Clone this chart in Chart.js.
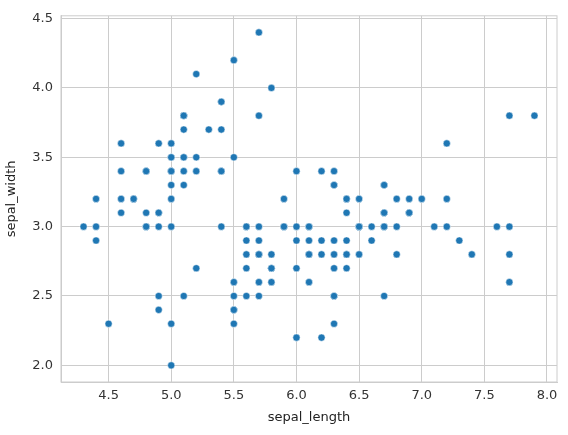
<!DOCTYPE html>
<html><head>
<script src="https://cdn.jsdelivr.net/npm/chart.js@4"></script>
<style>body{margin:0;background:#fff}#wrap{width:568px;height:435px}</style>
</head><body>
<div id="wrap"><canvas id="c"></canvas></div>
<script>
const sepalLength = [5.1,4.9,4.7,4.6,5.0,5.4,4.6,5.0,4.4,4.9,5.4,4.8,4.8,4.3,5.8,5.7,5.4,5.1,5.7,5.1,
5.4,5.1,4.6,5.1,4.8,5.0,5.0,5.2,5.2,4.7,4.8,5.4,5.2,5.5,4.9,5.0,5.5,4.9,4.4,5.1,
5.0,4.5,4.4,5.0,5.1,4.8,5.1,4.6,5.3,5.0,
7.0,6.4,6.9,5.5,6.5,5.7,6.3,4.9,6.6,5.2,5.0,5.9,6.0,6.1,5.6,6.7,5.6,5.8,6.2,5.6,
5.9,6.1,6.3,6.1,6.4,6.6,6.8,6.7,6.0,5.7,5.5,5.5,5.8,6.0,5.4,6.0,6.7,6.3,5.6,5.5,
5.5,6.1,5.8,5.0,5.6,5.7,5.7,6.2,5.1,5.7,
6.3,5.8,7.1,6.3,6.5,7.6,4.9,7.3,6.7,7.2,6.5,6.4,6.8,5.7,5.8,6.4,6.5,7.7,7.7,6.0,
6.9,5.6,7.7,6.3,6.7,7.2,6.2,6.1,6.4,7.2,7.4,7.9,6.4,6.3,6.1,7.7,6.3,6.4,6.0,6.9,
6.7,6.9,5.8,6.8,6.7,6.7,6.3,6.5,6.2,5.9];
const sepalWidth = [3.5,3.0,3.2,3.1,3.6,3.9,3.4,3.4,2.9,3.1,3.7,3.4,3.0,3.0,4.0,4.4,3.9,3.5,3.8,3.8,
3.4,3.7,3.6,3.3,3.4,3.0,3.4,3.5,3.4,3.2,3.1,3.4,4.1,4.2,3.1,3.2,3.5,3.6,3.0,3.4,
3.5,2.3,3.2,3.5,3.8,3.0,3.8,3.2,3.7,3.3,
3.2,3.2,3.1,2.3,2.8,2.8,3.3,2.4,2.9,2.7,2.0,3.0,2.2,2.9,2.9,3.1,3.0,2.7,2.2,2.5,
3.2,2.8,2.5,2.8,2.9,3.0,2.8,3.0,2.9,2.6,2.4,2.4,2.7,2.7,3.0,3.4,3.1,2.3,3.0,2.5,
2.6,3.0,2.6,2.3,2.7,3.0,2.9,2.9,2.5,2.8,
3.3,2.7,3.0,2.9,3.0,3.0,2.5,2.9,2.5,3.6,3.2,2.7,3.0,2.5,2.8,3.2,3.0,3.8,2.6,2.2,
3.2,2.8,2.8,2.7,3.3,3.2,2.8,3.0,2.8,3.0,2.8,3.8,2.8,2.8,2.6,3.0,3.4,3.1,3.0,3.1,
3.1,3.1,2.7,3.2,3.3,3.0,2.5,3.0,3.4,3.0];
const xTicks = [4.5,5.0,5.5,6.0,6.5,7.0,7.5,8.0];
const yTicks = [2.0,2.5,3.0,3.5,4.0,4.5];

const font = {family: 'DejaVu Sans', size: 13};
const grid = {color: '#cccccc', lineWidth: 1, drawTicks: false};

// light frame around the plot, like the seaborn whitegrid spines
const frame = {
    id: 'frame',
    afterDraw(chart) {
        const a = chart.chartArea, ctx = chart.ctx;
        ctx.save();
        ctx.strokeStyle = '#cccccc';
        ctx.lineWidth = 1;
        ctx.strokeRect(a.left, a.top, a.right - a.left, a.bottom - a.top);
        ctx.restore();
    }
};

new Chart(document.getElementById('c'), {
    type: 'scatter',
    data: {
        datasets: [{
            data: sepalLength.map((x, i) => ({x: x, y: sepalWidth[i]})),
            backgroundColor: '#1f77b4',
            borderColor: '#ffffff',
            borderWidth: 0.5,
            pointRadius: 3.6
        }]
    },
    options: {
        responsive: true,
        maintainAspectRatio: false,
        animation: false,
        layout: {padding: {top: 11, right: 11}},
        plugins: {legend: {display: false}, tooltip: {enabled: false}},
        scales: {
            x: {
                min: 4.12, max: 8.08,
                afterBuildTicks: a => { a.ticks = xTicks.map(v => ({value: v})); },
                afterFit: a => { a.height = 53; },
                grid: grid,
                border: {color: '#cccccc'},
                ticks: {font: font, color: '#333', padding: 6, callback: v => v.toFixed(1)},
                title: {display: true, text: 'sepal_length', font: font, color: '#222', padding: {top: 0, bottom: 10}}
            },
            y: {
                min: 1.88, max: 4.52,
                afterBuildTicks: a => { a.ticks = yTicks.map(v => ({value: v})); },
                afterFit: a => { a.width = 61; },
                grid: grid,
                border: {color: '#cccccc'},
                ticks: {font: font, color: '#333', padding: 8, callback: v => v.toFixed(1)},
                title: {display: true, text: 'sepal_width', font: font, color: '#222', padding: {bottom: 2}}
            }
        }
    },
    plugins: [frame]
});
</script>
</body></html>
